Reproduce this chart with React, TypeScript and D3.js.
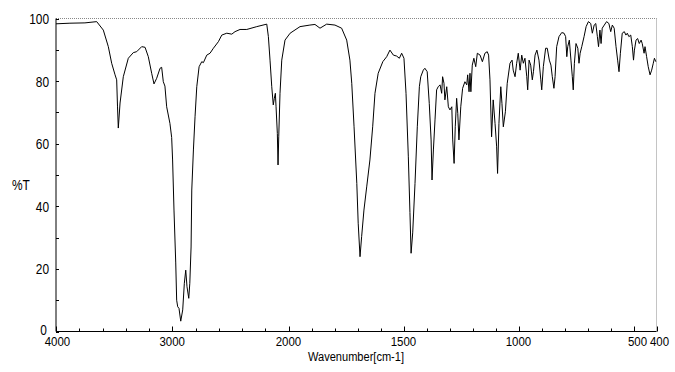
import React, { useEffect, useRef } from 'react'
import * as d3 from 'd3'

// wavenumber (cm-1) and transmittance (%T)
const wavenumber = [
  4000, 3880, 3751, 3650, 3593, 3550, 3521, 3492, 3478, 3471, 3464, 3449, 3421, 3378, 3335, 3306,
  3263, 3234, 3206, 3177, 3157, 3134, 3105, 3091, 3077, 3063, 3048, 3020, 3005, 2997, 2985, 2970,
  2962, 2953, 2942, 2927, 2910, 2896, 2884, 2873, 2858, 2849, 2838, 2832, 2818, 2804, 2789, 2769,
  2746, 2732, 2703, 2675, 2646, 2603, 2574, 2531, 2488, 2460, 2417, 2359, 2273, 2187, 2173, 2159,
  2144, 2131, 2122, 2113, 2107, 2096, 2090, 2084, 2073, 2058, 2030,
  1993, 1950, 1907, 1885, 1863, 1834, 1798, 1769, 1747, 1733, 1725, 1715, 1703, 1697, 1689, 1682,
  1672, 1660, 1646, 1634, 1624, 1610, 1590, 1573, 1559, 1544, 1530, 1518, 1508, 1498, 1489, 1479,
  1472, 1467, 1460, 1450, 1440, 1431, 1425, 1414, 1407, 1397, 1388, 1380, 1376, 1370, 1363, 1356,
  1349, 1341, 1334, 1330, 1324, 1320, 1312, 1305, 1298, 1290, 1286, 1280, 1275, 1269, 1264, 1259,
  1251, 1243, 1233, 1225, 1221, 1215, 1211, 1207, 1201, 1194, 1186, 1179, 1167, 1157, 1146, 1136,
  1130, 1124, 1117, 1110, 1102, 1095, 1091, 1085, 1077, 1072, 1066, 1057, 1049, 1037, 1028, 1023,
  1015, 1008, 1001, 993, 986, 979, 972, 964, 960, 954, 947, 940, 935, 928, 920, 911,
  903, 899, 892, 882, 875, 866, 859, 853, 846, 841, 834, 824, 812, 802, 795, 790,
  786, 779, 772, 766, 762, 757, 750, 742, 737, 732, 725, 715, 706, 696, 686, 679,
  671, 664, 657, 652, 646, 641, 636, 627, 617, 607, 599, 592, 584, 576, 569, 563,
  557, 549, 540, 533, 527, 520, 512, 505, 500, 496, 489, 482, 475, 467, 462, 454,
  450, 443, 436, 428, 421, 414, 409, 403
]
const transmittance = [
  98.3, 98.5, 98.6, 99.0, 96.3, 91.0, 85.7, 82.0, 80.4, 72.0, 65.0, 73.0, 81.4, 87.3, 89.1, 89.4,
  91.0, 90.8, 87.8, 82.5, 79.1, 80.9, 84.1, 84.4, 79.8, 78.4, 71.8, 66.5, 62.0, 54.8, 38.8, 21.9,
  10.0, 7.9, 7.4, 3.3, 6.9, 15.4, 19.6, 14.3, 10.6, 15.4, 27.0, 45.2, 58.0, 68.6, 78.2, 84.6,
  86.2, 85.9, 88.3, 88.9, 90.5, 92.6, 94.7, 95.3, 95.0, 95.8, 96.5, 96.5, 97.4, 98.2, 94.2, 86.7,
  78.2, 72.4, 74.5, 76.1, 71.8, 63.3, 53.2, 62.2, 76.1, 86.7, 93.1,
  95.3, 97.4, 97.9, 98.1, 96.9, 98.2, 97.9, 96.9, 93.1, 86.7, 79.3, 65.4, 47.3, 34.6, 23.9, 30.3,
  38.8, 46.2, 54.8, 65.4, 76.1, 82.5, 86.2, 87.8, 89.9, 88.3, 88.0, 87.3, 88.9, 87.3, 76.1, 55.8,
  38.0, 25.0, 31.5, 47.3, 65.4, 78.2, 81.4, 83.5, 84.1, 83.0, 72.9, 61.2, 48.4, 58.0, 67.6, 77.2,
  78.2, 78.8, 76.1, 81.4, 79.3, 74.0, 78.2, 71.8, 70.8, 71.8, 61.2, 53.7, 65.4, 74.5, 69.7, 61.2,
  71.8, 77.7, 79.8, 78.8, 82.0, 76.6, 82.5, 76.6, 85.1, 87.3, 84.6, 88.9, 88.3, 86.2, 88.9, 89.4,
  88.3, 80.4, 62.2, 74.0, 66.5, 59.0, 50.5, 66.5, 78.2, 72.9, 65.4, 70.2, 79.3, 85.7, 86.7, 83.5,
  81.4, 85.7, 88.9, 83.5, 88.3, 85.7, 87.3, 81.4, 77.2, 86.7, 85.1, 80.4, 83.0, 88.3, 89.9, 86.7,
  80.4, 77.2, 84.6, 90.5, 90.5, 86.7, 85.1, 81.4, 77.7, 81.4, 91.0, 94.2, 95.5, 95.3, 94.2, 87.8,
  91.0, 93.1, 86.7, 81.4, 77.2, 85.7, 92.0, 90.5, 85.7, 88.9, 91.0, 94.2, 97.4, 99.0, 98.4, 95.3,
  97.9, 98.4, 94.2, 91.0, 96.3, 92.0, 96.9, 97.9, 99.0, 98.4, 95.8, 97.9, 96.9, 91.0, 86.7, 83.0,
  88.9, 95.3, 95.8, 94.7, 95.3, 94.2, 94.7, 91.0, 86.7, 89.9, 93.1, 93.6, 92.0, 93.1, 92.0, 88.9,
  91.0, 87.8, 84.6, 82.0, 83.5, 85.7, 87.3, 86.2
]

const xTickLabels = [4000, 3000, 2000, 1500, 1000, 500, 400]
const yTickLabels = [0, 20, 40, 60, 80, 100]

const App = () => {
  const ref = useRef<SVGSVGElement>(null)

  useEffect(() => {
    const svg = d3.select(ref.current)
    svg.selectAll('*').remove()

    const left = 56, right = 656.5, top = 18.5, bottom = 331.5
    const font = "'Liberation Sans', Arial, sans-serif"

    // the axis is compressed above 2000 cm-1
    const x = d3.scaleLinear().domain([4000, 2000, 400]).range([left, 288.5, right])
    const y = d3.scaleLinear().domain([0, 100]).range([bottom, top])

    // narrow text, like the original's bitmap font
    const label = (g: any, tx: number, ty: number, s: string, anchor: string, sx = 0.85, size = 14) =>
      g.append('text')
        .attr('transform', `translate(${tx},${ty}) scale(${sx},1)`)
        .attr('text-anchor', anchor)
        .style('font-family', font).style('font-size', `${size}px`)
        .text(s)

    // frame
    svg.append('line').attr('x1', left).attr('x2', right).attr('y1', top).attr('y2', top)
      .attr('stroke', '#888').attr('stroke-dasharray', '1,1')
    svg.append('line').attr('x1', right).attr('x2', right).attr('y1', top).attr('y2', bottom)
      .attr('stroke', '#888').attr('stroke-dasharray', '1,1')
    svg.append('line').attr('x1', left).attr('x2', right).attr('y1', bottom).attr('y2', bottom)
      .attr('stroke', '#000')
    svg.append('line').attr('x1', left).attr('x2', left).attr('y1', top).attr('y2', bottom)
      .attr('stroke', '#000')

    // x ticks: every 200 above 2000, every 100 below
    const xTicks = d3.range(4000, 2000, -200).concat(d3.range(2000, 399, -100))
    svg.append('g').selectAll('line').data(xTicks).enter().append('line')
      .attr('x1', d => Math.round(x(d)) + 0.5).attr('x2', d => Math.round(x(d)) + 0.5)
      .attr('y1', bottom).attr('y2', d => bottom - (xTickLabels.includes(d) ? 5 : 3))
      .attr('stroke', '#000')

    const yTicks = d3.range(0, 101, 10)
    svg.append('g').selectAll('line').data(yTicks).enter().append('line')
      .attr('x1', left).attr('x2', left + 3)
      .attr('y1', d => Math.round(y(d)) + 0.5).attr('y2', d => Math.round(y(d)) + 0.5)
      .attr('stroke', '#000')

    const gx = svg.append('g')
    xTickLabels.forEach(d => {
      const off = d === 500 ? 4 : d === 400 ? 3 : d === 4000 ? 1.5 : 0
      label(gx, x(d) + off, 346, String(d), 'middle', 0.85, 13.5)
    })

    const gy = svg.append('g')
    yTickLabels.forEach(d => label(gy, d === 0 ? 47 : 49, (d === 0 ? y(d) + 3 : y(d) + 5.5), String(d), 'end'))

    label(svg, 12, 190, '%T', 'start')
    label(svg, 356, 361, 'Wavenumber[cm-1]', 'middle', 0.82, 13.5)

    const points = wavenumber.map((w, i) => [w, transmittance[i]] as [number, number])
    const line = d3.line<[number, number]>().x(d => x(d[0])).y(d => y(d[1]))
    svg.append('path').datum(points).attr('d', line)
      .attr('fill', 'none').attr('stroke', '#000').attr('stroke-width', 1)
  }, [])

  return (
    <svg ref={ref} width={675} height={372}
      style={{ position: 'absolute', left: 0, top: 0, background: '#fff' }} />
  )
}

export default App
